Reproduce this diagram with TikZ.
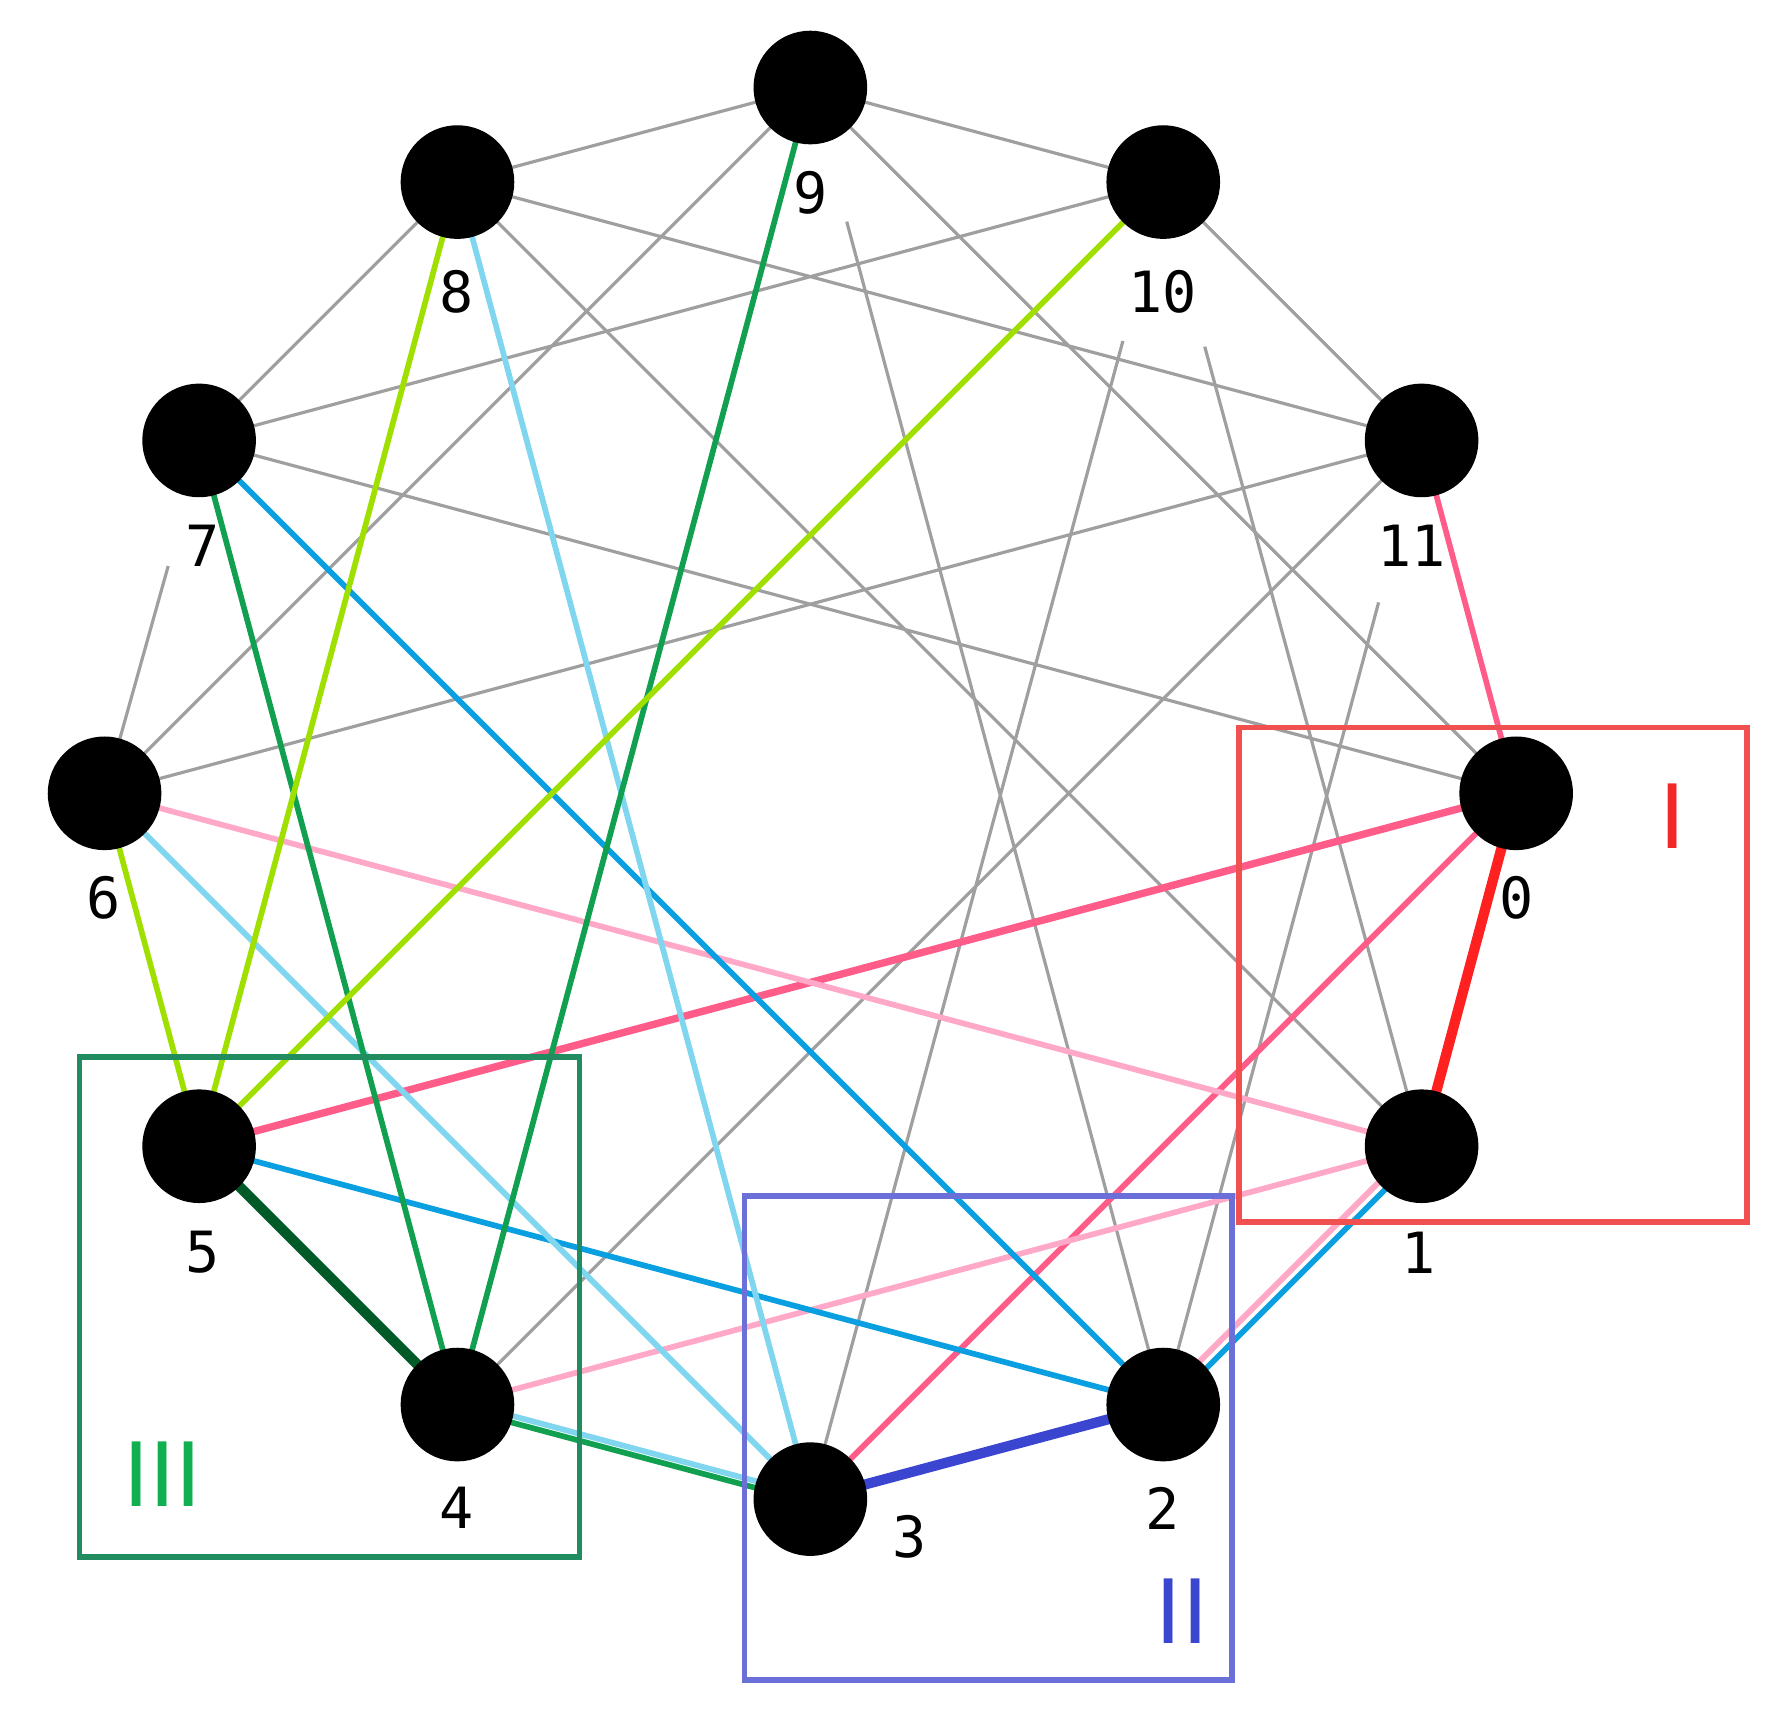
\documentclass[tikz,border=0pt]{standalone}
\usepackage{fontspec}
\setmonofont{DejaVu Sans Mono}
\setsansfont{DejaVu Sans}
\usetikzlibrary{calc}
\begin{document}
\begin{tikzpicture}[x=1pt,y=-1pt,
  gr/.style={draw=gray!75,line width=2.8pt},
  col/.style={line width=5pt},
  thk/.style={line width=9pt},
  vtx/.style={circle,fill=black,minimum size=100pt,inner sep=0pt},
  lab/.style={font=\ttfamily\fontsize{50}{50}\selectfont,inner sep=0pt},
  roman/.style={font=\sffamily\fontsize{78}{78}\selectfont,inner sep=0pt}]
\definecolor{cred}{HTML}{FF2020}
\definecolor{cpink}{HTML}{FF5C8A}
\definecolor{clpink}{HTML}{FFA8C8}
\definecolor{cblue}{HTML}{0A9FE0}
\definecolor{cdblue}{HTML}{3A45D0}
\definecolor{clblue}{HTML}{80D6EE}
\definecolor{cgreen}{HTML}{10A050}
\definecolor{cdgreen}{HTML}{005A28}
\definecolor{cyg}{HTML}{A0E000}
\useasboundingbox (0,0) rectangle (1560,1508);
\foreach \k in {0,...,11}{\coordinate (p\k) at ({713+621*cos(-30*\k)},{698-621*sin(-30*\k)});}
\coordinate (s92) at (745,195);
\coordinate (s103) at (988,300);
\coordinate (s101) at (1060,305);
\coordinate (s112) at (1213,530);
\coordinate (s76) at (148,498);
\draw[gr] (p8)--(p9) (p9)--(p10) (p10)--(p11) (p7)--(p8) (s76)--(p6);
\draw[gr] (p6)--(p9) (p9)--(p0) (p7)--(p10) (p8)--(p11) (p6)--(p11);
\draw[gr] (p7)--(p0) (p8)--(p1) (s101)--(p1) (s103)--(p3) (s92)--(p2) (s112)--(p2) (p11)--(p4);
\draw[col,cpink] (p11)--(p0) (p0)--(p3);
\draw[col,cpink,line width=6.5pt] (p0)--(p5);
\draw[thk,cred] (p0)--(p1);
\draw[col,clpink] (p6)--(p1) (p1)--(p4);
\draw[col,cblue] ($(p1)+(3,3)$)--($(p2)+(3,3)$);
\draw[col,clpink] ($(p1)+(-3,-3)$)--($(p2)+(-3,-3)$);
\draw[thk,cdblue] (p2)--(p3);
\draw[col,cblue] (p2)--(p5) (p2)--(p7);
\draw[col,clblue] (p3)--(p6) (p3)--(p8);
\draw[col,cgreen] ($(p3)+(0,3)$)--($(p4)+(0,3)$);
\draw[col,clblue] ($(p3)+(0,-3)$)--($(p4)+(0,-3)$);
\draw[thk,cdgreen] (p4)--(p5);
\draw[col,cgreen] (p4)--(p7) (p4)--(p9);
\draw[col,cyg] (p5)--(p6) (p5)--(p8) (p5)--(p10);
\foreach \k in {0,...,11}{\node[vtx] (v\k) at (p\k) {};}
\node[lab] (l0) at (1334,790) {0};
\node[lab] (l1) at (1248,1102) {1};
\node[lab] (l2) at (1023,1327) {2};
\node[lab] (l3) at (800,1352) {3};
\node[lab] (l4) at (402,1327) {4};
\node[lab] (l5) at (178,1102) {5};
\node[lab] (l6) at (91,790) {6};
\node[lab] (l7) at (178,480) {7};
\node[lab] (l8) at (402,257) {8};
\node[lab] (l9) at (713,170) {9};
\node[lab] (l10) at (1023,257) {10};
\node[lab] (l11) at (1242,480) {11};
\draw[draw={rgb,255:red,240;green,80;blue,80},line width=5pt] (1090,640) rectangle (1537,1075);
\node[roman,text={rgb,255:red,240;green,40;blue,40}] (tI) at (1472,718) {I};
\draw[draw={rgb,255:red,106;green,112;blue,216},line width=5pt] (655,1052) rectangle (1084,1478);
\node[roman,text=cdblue] (tII) at (1040,1418) {II};
\draw[draw={rgb,255:red,32;green,140;blue,96},line width=5pt] (70,930) rectangle (510,1370);
\node[roman,text={rgb,255:red,16;green,176;blue,80}] (tIII) at (143,1297) {III};
\end{tikzpicture}
\end{document}
